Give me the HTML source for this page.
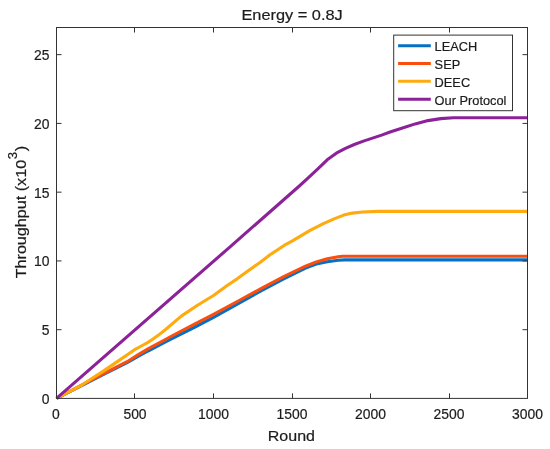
<!DOCTYPE html>
<html lang="en"><head><meta charset="utf-8"><title>Energy = 0.8J</title>
<style>
html,body{margin:0;padding:0;background:#fff;}
body{width:550px;height:449px;overflow:hidden;}
svg{display:block;font-family:"Liberation Sans", Arial, Helvetica, sans-serif;}
text{fill:#1c1c1c;stroke:#1c1c1c;stroke-width:0.2px;}
.ax{stroke:#333333;stroke-width:1;fill:none;}
.tk{font-size:13.9px;}
.lb{font-size:15.4px;}
.lg{font-size:12.8px;}
.tt{font-size:15.5px;}
.ln{fill:none;stroke-width:3.1;stroke-linejoin:round;stroke-linecap:butt;}
</style></head><body>
<svg width="550" height="449" viewBox="0 0 550 449">
<rect x="0" y="0" width="550" height="449" fill="#ffffff"/>
<g>
<polyline class="ln" stroke="#0670C4" points="56.5,398.4 103.6,374.4 127.1,362.7 138.0,356.5 148.0,351.0 157.9,345.9 169.9,339.7 195.0,327.0 213.5,317.4 240.0,302.7 261.9,290.4 283.7,278.9 305.5,268.0 316.3,264.1 327.3,261.7 338.2,260.3 344.6,259.9 527.5,259.9"/>
<polyline class="ln" stroke="#FA4E0E" points="56.5,398.4 103.6,373.7 127.1,361.7 138.0,354.9 148.0,348.9 157.9,343.6 169.9,337.0 195.0,323.9 213.5,314.3 240.0,300.0 261.9,288.1 283.7,276.7 305.5,266.2 316.3,261.9 327.3,258.7 338.2,256.8 342.6,256.2 527.5,256.2"/>
<polyline class="ln" stroke="#FDAB0E" points="56.5,398.4 82.2,384.8 104.5,370.4 119.9,359.9 134.2,349.9 143.2,345.0 148.0,342.4 152.6,339.3 157.9,335.6 165.3,329.7 181.3,316.1 197.5,305.3 213.5,295.5 226.8,285.8 237.5,278.6 248.2,270.8 260.0,262.4 270.0,254.8 284.5,245.2 292.0,241.1 310.1,230.3 323.4,223.7 334.1,218.9 343.7,215.1 352.4,213.1 362.7,212.0 378.2,211.4 527.5,211.4"/>
<polyline class="ln" stroke="#8C2298" points="56.5,398.4 229.2,247.6 299.9,185.5 309.0,177.2 318.1,168.6 327.2,159.8 336.3,153.2 345.4,148.4 354.3,144.5 363.4,141.1 372.5,138.1 381.6,135.1 390.8,131.8 402.5,128.1 415.2,123.9 428.0,120.6 440.7,118.6 453.4,117.8 527.5,117.8"/>
</g>
<rect class="ax" x="56.5" y="27.5" width="471.0" height="370.9"/>
<path class="ax" d="M134.50,398.4v-5.0M134.50,27.5v5.0M213.50,398.4v-5.0M213.50,27.5v5.0M292.50,398.4v-5.0M292.50,27.5v5.0M370.50,398.4v-5.0M370.50,27.5v5.0M449.50,398.4v-5.0M449.50,27.5v5.0M56.5,329.69h5.0M527.5,329.69h-5.0M56.5,260.93h5.0M527.5,260.93h-5.0M56.5,192.17h5.0M527.5,192.17h-5.0M56.5,123.41h5.0M527.5,123.41h-5.0M56.5,54.65h5.0M527.5,54.65h-5.0"/>
<text class="tk" x="55.8" y="419.0" text-anchor="middle">0</text>
<text class="tk" x="135.0" y="419.0" text-anchor="middle">500</text>
<text class="tk" x="213.5" y="419.0" text-anchor="middle">1000</text>
<text class="tk" x="292.0" y="419.0" text-anchor="middle">1500</text>
<text class="tk" x="370.5" y="419.0" text-anchor="middle">2000</text>
<text class="tk" x="449.0" y="419.0" text-anchor="middle">2500</text>
<text class="tk" x="527.5" y="419.0" text-anchor="middle">3000</text>
<text class="tk" x="49.4" y="403.6" text-anchor="end">0</text>
<text class="tk" x="49.4" y="334.9" text-anchor="end">5</text>
<text class="tk" x="49.4" y="266.2" text-anchor="end">10</text>
<text class="tk" x="49.4" y="197.5" text-anchor="end">15</text>
<text class="tk" x="49.4" y="128.9" text-anchor="end">20</text>
<text class="tk" x="49.4" y="60.2" text-anchor="end">25</text>
<text class="lb" transform="translate(291.4,441.1) scale(1.04,1)" text-anchor="middle">Round</text>
<text class="lb" transform="translate(25.9,212.1) rotate(-90) scale(1.05,1)" text-anchor="middle">Throughput (x10<tspan dy="-8.6" dx="0.6" font-size="12.6">3</tspan><tspan dy="8.6" dx="0.6">)</tspan></text>
<text class="tt" transform="translate(292.1,19.7) scale(1.055,1)" text-anchor="middle">Energy = 0.8J</text>
<rect class="ax" x="393.7" y="35.1" width="118.8" height="75.6" style="fill:#fff"/>
<line class="ln" stroke="#0670C4" x1="398.1" x2="430.8" y1="45.8" y2="45.8"/>
<text class="lg" x="434.6" y="51.1">LEACH</text>
<line class="ln" stroke="#FA4E0E" x1="398.1" x2="430.8" y1="63.5" y2="63.5"/>
<text class="lg" x="434.6" y="69.0">SEP</text>
<line class="ln" stroke="#FDAB0E" x1="398.1" x2="430.8" y1="81.3" y2="81.3"/>
<text class="lg" x="434.6" y="86.8">DEEC</text>
<line class="ln" stroke="#8C2298" x1="398.1" x2="430.8" y1="99.2" y2="99.2"/>
<text class="lg" x="434.6" y="104.6">Our Protocol</text>
</svg></body></html>
